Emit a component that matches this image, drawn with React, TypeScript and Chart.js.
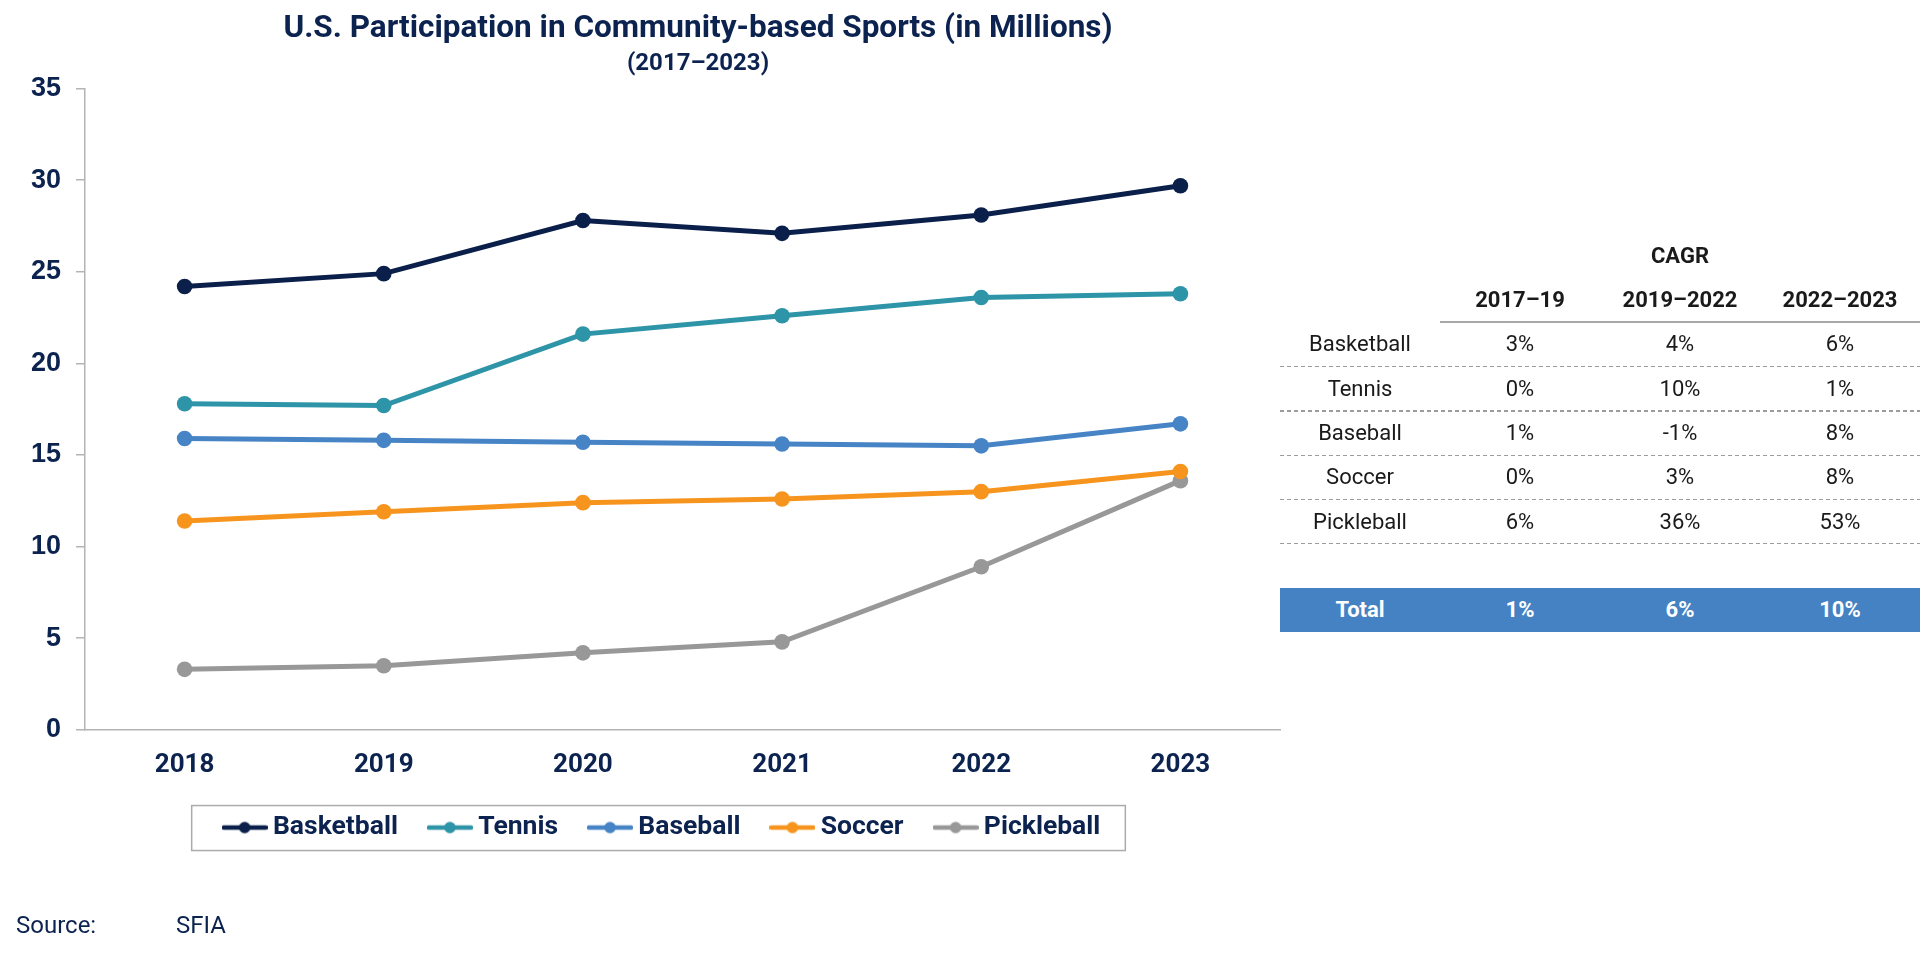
import React, { useEffect, useRef } from "react";
import { Chart, registerables } from "chart.js";

Chart.register(...registerables);

// ---- data ----
const years = ["2018", "2019", "2020", "2021", "2022", "2023"];
const sports = ["Basketball", "Tennis", "Baseball", "Soccer", "Pickleball"];
const basketball = [24.2, 24.9, 27.8, 27.1, 28.1, 29.7];
const tennis = [17.8, 17.7, 21.6, 22.6, 23.6, 23.8];
const baseball = [15.9, 15.8, 15.7, 15.6, 15.5, 16.7];
const soccer = [11.4, 11.9, 12.4, 12.6, 13.0, 14.1];
const pickleball = [3.3, 3.5, 4.2, 4.8, 8.9, 13.6];
const seriesColors = ["#0b1f4b", "#2e94a7", "#4684c6", "#f7941d", "#989898"];

const cagrPeriods = ["2017\u201319", "2019\u20132022", "2022\u20132023"];
const cagr2017to19 = [3, 0, 1, 0, 6];
const cagr2019to22 = [4, 10, -1, 3, 36];
const cagr2022to23 = [6, 1, 8, 8, 53];
const cagrTotal = [1, 6, 10];

const NAVY = "#0c2350";
const AXIS_GREY = "#b4b4b4";

// layout tuning
const TITLE_SHIFT = 50;
const LEGEND_SHIFT = 17;
const LEGEND_PAD = 37;
const LEGEND_FONT = 26.5;
const MARKER_W = 46;
const LEGEND_BOX_W = 30;

function markerImage(color: string): HTMLCanvasElement {
  const c = document.createElement("canvas");
  c.width = MARKER_W;
  c.height = 14;
  const g = c.getContext("2d")!;
  g.strokeStyle = color;
  g.lineWidth = 4.5;
  g.lineCap = "round";
  g.beginPath();
  g.moveTo(2, 7);
  g.lineTo(MARKER_W - 2, 7);
  g.stroke();
  g.fillStyle = color;
  g.beginPath();
  g.arc(MARKER_W / 2, 7, 5.8, 0, Math.PI * 2);
  g.fill();
  return c;
}

// moves the title block and legend to their places once the layout is done
const shiftBoxes = {
  id: "shiftBoxes",
  afterLayout(chart: any) {
    chart.boxes.forEach((b: any) => {
      if (b.options && typeof b.options.text === "string" && b.options.text) {
        b.left += TITLE_SHIFT;
        b.right += TITLE_SHIFT;
      }
    });
    const lg = chart.legend;
    if (lg) {
      lg.left += LEGEND_SHIFT;
      lg.right += LEGEND_SHIFT;
      const h = lg.bottom - lg.top;
      lg.top = chart.chartArea.bottom + 47.5;
      lg.bottom = lg.top + h;
    }
  },
};

// thin frame around the legend items
const legendFrame = {
  id: "legendFrame",
  afterDraw(chart: any) {
    const lg = chart.legend;
    if (!lg || !lg.lineWidths) return;
    const lw = lg.lineWidths[0];
    const x0 = (lg.left + LEGEND_PAD + lg.right - lw) / 2;
    const gs = x0 + LEGEND_BOX_W / 2 - MARKER_W / 2;
    const ge = x0 + lw - LEGEND_PAD;
    const cy = lg.top + LEGEND_PAD + LEGEND_FONT / 2;
    const ctx = chart.ctx;
    ctx.save();
    ctx.strokeStyle = "#ababab";
    ctx.lineWidth = 1.5;
    ctx.strokeRect(gs - 30, cy - 22, ge - gs + 55, 45);
    ctx.restore();
  },
};

function LineChart() {
  const ref = useRef<HTMLCanvasElement>(null);
  useEffect(() => {
    const values = [basketball, tennis, baseball, soccer, pickleball];
    const chart = new Chart(ref.current!, {
      type: "line",
      data: {
        labels: years,
        datasets: sports.map((name, i) => ({
          label: name,
          data: values[i],
          borderColor: seriesColors[i],
          backgroundColor: seriesColors[i],
          pointBackgroundColor: seriesColors[i],
          pointBorderWidth: 0,
          pointRadius: 7.8,
          borderWidth: 5,
          tension: 0,
        })),
      },
      options: {
        responsive: false,
        animation: false,
        layout: { padding: { left: 16, right: 640, top: 0, bottom: 101 } },
        font: { family: "Roboto" },
        plugins: {
          tooltip: { enabled: false },
          title: {
            display: true,
            text: "U.S. Participation in Community-based Sports (in Millions)",
            color: NAVY,
            font: { family: "Roboto", size: 31.5, weight: "bold" },
            padding: { top: 10, bottom: 0 },
          },
          subtitle: {
            display: true,
            text: "(2017\u20132023)",
            color: NAVY,
            font: { family: "Roboto", size: 24, weight: "bold" },
            padding: { top: 2, bottom: 10 },
          },
          legend: {
            position: "bottom",
            maxHeight: 60,
            labels: {
              usePointStyle: true,
              pointStyleWidth: LEGEND_BOX_W,
              padding: LEGEND_PAD,
              color: NAVY,
              font: { family: "Roboto", size: LEGEND_FONT, weight: "bold" },
              generateLabels: (ch: any) =>
                Chart.defaults.plugins.legend.labels
                  .generateLabels(ch)
                  .map((item: any, i: number) => ({
                    ...item,
                    pointStyle: markerImage(seriesColors[i]),
                  })),
            },
          },
        },
        scales: {
          x: {
            offset: true,
            grid: { display: false },
            border: { display: true, color: AXIS_GREY, width: 1.5 },
            ticks: {
              color: NAVY,
              padding: 12,
              font: { family: "Roboto", size: 26, weight: "bold" },
            },
          },
          y: {
            min: 0,
            max: 35,
            ticks: {
              stepSize: 5,
              color: NAVY,
              padding: 15,
              font: { family: "Liberation Sans", size: 27, weight: "bold" },
            },
            grid: {
              drawOnChartArea: false,
              drawTicks: true,
              tickLength: 9,
              color: AXIS_GREY,
              lineWidth: 1.5,
            },
            border: { display: true, color: AXIS_GREY, width: 1.5 },
          },
        },
      } as any,
      plugins: [shiftBoxes, legendFrame],
    });
    return () => chart.destroy();
  }, []);
  return (
    <canvas
      ref={ref}
      width={1920}
      height={954}
      style={{ position: "absolute", left: 0, top: 0, width: 1920, height: 954 }}
    />
  );
}

const ROW_H = 44.3;
const COL_W = 160;
const TABLE_LEFT = 1280;
const TABLE_TOP = 233.7;
const TOTAL_TOP = 588.3;

function fmt(v: number) {
  return `${v}%`;
}

function Cell(props: { row: number; col: number; text: string; style?: React.CSSProperties }) {
  return (
    <div
      style={{
        position: "absolute",
        left: TABLE_LEFT + props.col * COL_W,
        top: TABLE_TOP + props.row * ROW_H,
        width: COL_W,
        height: ROW_H,
        lineHeight: `${ROW_H}px`,
        textAlign: "center",
        whiteSpace: "nowrap",
        ...props.style,
      }}
    >
      {props.text}
    </div>
  );
}

function CagrTable() {
  const cols = [cagr2017to19, cagr2019to22, cagr2022to23];
  const bold: React.CSSProperties = { fontWeight: 700 };
  const dash =
    "repeating-linear-gradient(90deg, #9c9c9c 0 4px, transparent 4px 7px)";
  return (
    <div style={{ fontFamily: "Roboto", fontSize: 22, color: "#1a1a1a" }}>
      <Cell row={0} col={2} text="CAGR" style={bold} />
      {cagrPeriods.map((p, j) => (
        <Cell key={p} row={1} col={j + 1} text={p} style={bold} />
      ))}
      <div
        style={{
          position: "absolute",
          left: TABLE_LEFT + COL_W,
          top: TABLE_TOP + 2 * ROW_H - 1,
          width: 3 * COL_W,
          height: 2,
          background: "#a8a8a8",
        }}
      />
      {sports.map((s, i) => (
        <React.Fragment key={s}>
          <Cell row={2 + i} col={0} text={s} />
          {cols.map((c, j) => (
            <Cell key={j} row={2 + i} col={j + 1} text={fmt(c[i])} />
          ))}
          <div
            style={{
              position: "absolute",
              left: TABLE_LEFT,
              top: TABLE_TOP + (3 + i) * ROW_H - 0.5,
              width: 4 * COL_W,
              height: 1.2,
              background: dash,
            }}
          />
        </React.Fragment>
      ))}
      <div
        style={{
          position: "absolute",
          left: TABLE_LEFT,
          top: TOTAL_TOP,
          width: 4 * COL_W,
          height: 44,
          background: "#4482c4",
        }}
      />
      {["Total", ...cagrTotal.map(fmt)].map((t, j) => (
        <div
          key={j}
          style={{
            position: "absolute",
            left: TABLE_LEFT + j * COL_W,
            top: TOTAL_TOP,
            width: COL_W,
            height: 44,
            lineHeight: "44px",
            textAlign: "center",
            color: "#ffffff",
            fontWeight: 700,
          }}
        >
          {t}
        </div>
      ))}
    </div>
  );
}

export default function App() {
  return (
    <div
      style={{
        position: "absolute",
        left: 0,
        top: 0,
        width: 1920,
        height: 954,
        background: "#ffffff",
        overflow: "hidden",
      }}
    >
      <LineChart />
      <CagrTable />
      <div
        style={{
          position: "absolute",
          left: 16,
          top: 910,
          fontFamily: "Roboto",
          fontSize: 24,
          lineHeight: "30px",
          color: NAVY,
        }}
      >
        <span>Source:</span>
        <span style={{ position: "absolute", left: 160 }}>SFIA</span>
      </div>
    </div>
  );
}
